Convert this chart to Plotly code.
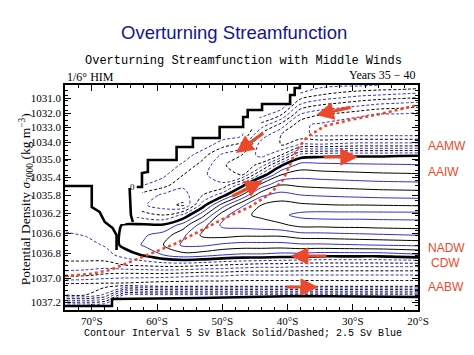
import numpy as np
import plotly.graph_objects as go

# ---------------- data ----------------
lats = [-74, -71, -68, -65, -62, -59, -56, -53, -50, -47, -44, -41, -38, -35, -32, -29, -26, -23, -20]
layers = list(range(0, 46, 2))          # model (isopycnal) layer index, axis is linear in layer

N = None
# overturning streamfunction (Sv), one list per latitude, top layer -> bottom layer
psi_by_lat = [
    [N, N, N, N, N, N, N, N, N, N, N, -0.3, -0.6, -1, -1.8, -2.8, -3.6, -4.2, -5.5, -9, -16, -15, -1],
    [N, N, N, N, N, N, N, N, N, N, N, -0.2, -0.5, -0.9, -1.6, -2.4, -3.3, -4.1, -5.6, -9.5, -16, -15, -1],
    [N, N, N, N, N, N, N, N, N, N, N, N, N, N, -1.2, -1.6, -2.3, -3.5, -6, -10.5, -16, -12, -1],
    [N, N, N, N, N, N, N, N, N, N, N, N, N, N, 0.2, 0.6, 0.8, -1.5, -5, -11, -16, -2, N],
    [N, N, N, N, N, N, N, N, N, -0.5, -2.5, -6, -7.2, -4, 0.3, 2.2, 2.8, 0.3, -4.5, -11, -16.5, -2, N],
    [N, N, N, N, N, N, N, N, -0.5, -2, -4, -8, -9, -5, 0.3, 3.5, 5, 2.5, -4, -11, -17, -2, N],
    [N, N, N, N, N, N, N, -1, -3, -5, -7, -8.5, -10.5, -2, 3.5, 7, 8, 4, -4, -11.5, -17, -2, N],
    [N, N, N, N, N, N, -1, -4, -6, -7, -7, -5, -1.2, 4, 9, 10.5, 8, 3.5, -4.5, -12, -17, -2, N],
    [N, N, N, N, N, -1, -4, -8, -9.5, -9, -7, -1.2, 6, 11.5, 13, 11, 7, 2.5, -5, -12, -17, -2, N],
    [N, N, N, N, N, -2, -6, -10, -12, -10, -1, 5, 12, 14.5, 13.5, 10.5, 6.5, 2, -5.5, -12.5, -17, -2, N],
    [N, N, N, -1.5, -6, -11, -14, -13.5, -9, -1.5, 6, 12, 15, 15.5, 14, 10.5, 6.5, 2, -6, -12.5, -17, -2, N],
    [N, N, -0.3, -5, -11, -15, -15, -10, -0.5, 5, 10, 13.5, 16, 17, 14.5, 10.5, 6.5, 1.5, -6, -12.5, -17, -2, N],
    [-0.5, -3, -8, -13, -17, -17, -12, -1.5, 3.5, 6.5, 9.5, 12.5, 15.5, 18.2, 15.8, 11.5, 7, 1.5, -6.5, -12.5, -17, -2, N],
    [-1.5, -5, -10, -15, -18, -18, -12, -0.8, 3.2, 6.2, 9.2, 12.2, 15.2, 18.6, 15.8, 11.6, 7, 1, -6.5, -12.5, -17, -2, N],
    [-2, -6, -11, -16, -19, -18, -11.5, -0.5, 3, 6, 9, 12, 15, 18.6, 16, 11.8, 7.2, 1, -6.5, -12.5, -17, -2, N],
    [-2, -7, -12, -17, -19.5, -18, -11, -0.5, 2.9, 5.8, 8.8, 11.8, 15, 18.6, 16, 12, 7.4, 1, -6.5, -12.5, -17, -2, N],
    [-2.5, -7.5, -13, -18, -19.5, -18, -11, -0.5, 2.8, 5.6, 8.6, 11.6, 14.9, 18.6, 16.2, 12.2, 7.6, 1, -6.5, -12.5, -17, -2, N],
    [-2.5, -8, -13.5, -18, -19.5, -18, -11, -0.3, 2.7, 5.5, 8.5, 11.5, 14.8, 18.6, 16.3, 12.4, 7.8, 1.5, -6.5, -12.5, -17, -2, N],
    [-3, -8.5, -14, -18.5, -19.5, -18, -11, -0.2, 2.6, 5.4, 8.4, 11.4, 14.7, 18.6, 16.4, 12.6, 8, 2, -6.5, -12.5, -17, -2, N],
]

# outcrop (lightest layer present) and densest-layer boundaries
outcrop_left_lat = [-74.1, -70.0, -70.0, -68.8, -68.0, -66.8, -66.2, -66.2]
outcrop_left_layer = [20.2, 20.2, 24.4, 25.4, 27.4, 28.6, 30.0, 33.0]
outcrop_lat = [-63.7, -64.0, -64.2, None, -63.1, -62.3, -62.3, -61.4, -61.4, -57.0, -57.0, -54.5, -54.5,
               -50.4, -50.4, -46.8, -46.8, -46.1, -46.1, -43.9, -43.9, -39.6, -39.6, -38.9, -38.9, -38.1, -38.1]
outcrop_layer = [27.4, 26.0, 20.6, None, 20.4, 20.4, 17.6, 17.4, 15.0, 15.0, 12.4, 12.4, 10.6,
                 10.6, 8.4, 8.4, 6.4, 6.4, 5.0, 5.0, 3.8, 3.8, 2.0, 2.0, 0.6, 0.6, 0.0]
bottom_lat = [-74.1, -66.9, -66.9, -53.4, -38.1, -20.0]
bottom_layer = [44.2, 44.2, 42.8, 42.6, 42.2, 42.4]

# red dotted line
red_lat = [-74.1, -70.3, -67.2, -64.2, -61.1, -57.3, -53.4, -49.6, -45.8, -42.7, -40.7, -39.6,
           -38.6, -37.0, -34.3, -30.4, -25.8, -20.0]
red_layer = [38.2, 37.8, 37.0, 35.4, 33.8, 31.8, 29.2, 26.6, 24.4, 21.8, 19.0, 16.0,
             13.0, 10.4, 8.2, 7.0, 5.8, 4.0]

# flow arrows: tail -> head
arrow_tail_lat = [-30.1, -43.5, -34.7, -48.7, -33.8, -40.4]
arrow_tail_layer = [4.4, 9.4, 14.4, 22.4, 34.2, 40.4]
arrow_head_lat = [-35.6, -47.9, -29.2, -43.8, -39.5, -35.3]
arrow_head_layer = [6.0, 13.6, 14.4, 19.2, 34.2, 40.4]

# water mass labels
water_masses = ["AAMW", "AAIW", "NADW", "CDW", "AABW"]
water_mass_layer = [12.2, 17.4, 32.6, 35.6, 40.4]

# axes
lat_ticks = [-70, -60, -50, -40, -30, -20]
lat_labels = ["70°S", "60°S", "50°S", "40°S", "30°S", "20°S"]
density_labels = ["1031.0", "1032.0", "1033.0", "1034.0", "1035.0", "1035.4", "1035.8",
                  "1036.2", "1036.6", "1036.8", "1037.0", "1037.2"]
density_layer = [2.6, 5.6, 8.5, 11.5, 14.8, 18.4, 22.0, 25.7, 29.6, 33.6, 38.6, 43.5]

# ---------------- figure ----------------
Z = np.array([[np.nan if v is None else v for v in col] for col in psi_by_lat], dtype=float).T

BLUE = "#2f2fc8"
RED = "#ea4a2a"
SERIF = "Liberation Serif"
MONO = "Liberation Mono"

def contour(start, end, color, dash, width):
    return go.Contour(
        x=lats, y=layers, z=Z, autocontour=False, connectgaps=False,
        contours=dict(start=start, end=end, size=5, coloring="none", showlabels=False),
        line=dict(color=color, width=width, dash=dash, smoothing=0.9),
        showscale=False, hoverinfo="skip")

fig = go.Figure()
fig.add_trace(contour(-17.5, -2.5, BLUE, "3px,2px", 1))
fig.add_trace(contour(-20, -5, "black", "3px,2px", 1))
fig.add_trace(contour(2.5, 17.5, BLUE, "solid", 1))
fig.add_trace(contour(5, 20, "black", "solid", 1))
fig.add_trace(contour(0, 0.1, "black", "solid", 2.6))

for xs, ys in [(outcrop_left_lat, outcrop_left_layer), (outcrop_lat, outcrop_layer), (bottom_lat, bottom_layer)]:
    fig.add_trace(go.Scatter(x=xs, y=ys, mode="lines", connectgaps=False,
                             line=dict(color="black", width=2.6), hoverinfo="skip"))

fig.add_trace(go.Scatter(x=red_lat, y=red_layer, mode="lines",
                         line=dict(color=RED, width=2.6, dash="dot"), hoverinfo="skip"))

for tx, ty, hx, hy in zip(arrow_tail_lat, arrow_tail_layer, arrow_head_lat, arrow_head_layer):
    fig.add_annotation(x=hx, y=hy, ax=tx, ay=ty, xref="x", yref="y", axref="x", ayref="y",
                       text="", showarrow=True, arrowhead=2, arrowsize=1.1, arrowwidth=3.2,
                       arrowcolor=RED)

fig.add_annotation(x=-63.75, y=20.3, text="0", showarrow=False, xref="x", yref="y",
                   font=dict(family=SERIF, size=9, color="black"))

for name, lay in zip(water_masses, water_mass_layer):
    fig.add_annotation(x=1, y=lay, xref="paper", yref="y", text=name, showarrow=False,
                       xanchor="left", xshift=8 if name != "CDW" else 11,
                       font=dict(family="Liberation Sans", size=12, color=RED))

# titles
fig.add_annotation(x=0.48, y=1, xref="paper", yref="paper", yshift=53, yanchor="middle",
                   text="Overturning Streamfunction", showarrow=False,
                   font=dict(family="Liberation Sans", size=18.5, color="#16168c"))
fig.add_annotation(x=0.505, y=1, xref="paper", yref="paper", yshift=24, yanchor="middle",
                   text="Overturning Streamfunction with Middle Winds", showarrow=False,
                   font=dict(family=MONO, size=12, color="black"))
fig.add_annotation(x=0, y=1, xref="paper", yref="paper", yshift=8, yanchor="middle", xanchor="left",
                   text="1/6° HIM", showarrow=False, font=dict(family=SERIF, size=12, color="black"))
fig.add_annotation(x=1, y=1, xref="paper", yref="paper", yshift=10, yanchor="middle", xanchor="right",
                   text="Years 35 − 40", showarrow=False, font=dict(family=SERIF, size=12, color="black"))
fig.add_annotation(x=0.503, y=0, xref="paper", yref="paper", yshift=-23, yanchor="middle",
                   text="Contour Interval 5 Sv Black Solid/Dashed; 2.5 Sv Blue", showarrow=False,
                   font=dict(family=MONO, size=10, color="black"))
fig.add_annotation(x=0, y=0.49, xref="paper", yref="paper", xshift=-50, textangle=-90,
                   text="Potential Density <i>σ</i><sub>2000</sub> (kg m<sup>−3</sup>)", showarrow=False,
                   font=dict(family=SERIF, size=13.5, color="black"))

# page body has an 8px margin, so the figure is sized 8px smaller to sit where the reference is
fig.update_layout(
    width=466, height=347, margin=dict(l=57, r=56, t=77, b=45),
    paper_bgcolor="white", plot_bgcolor="white", showlegend=False,
    xaxis=dict(range=[-74.1, -20], tickmode="array", tickvals=lat_ticks, ticktext=lat_labels,
               ticks="inside", ticklen=6, tickcolor="black", showline=True, linecolor="black",
               linewidth=1.5, mirror="allticks", showgrid=False, zeroline=False,
               minor=dict(tickmode="linear", tick0=0, dtick=2, ticks="inside", ticklen=3, tickcolor="black"),
               tickfont=dict(family=SERIF, size=11, color="black")),
    yaxis=dict(range=[45, 0], tickmode="array", tickvals=density_layer, ticktext=density_labels,
               ticks="inside", ticklen=6, tickcolor="black", showline=True, linecolor="black",
               linewidth=1.5, mirror="allticks", showgrid=False, zeroline=False,
               minor=dict(tickmode="linear", tick0=0, dtick=1, ticks="inside", ticklen=3, tickcolor="black"),
               tickfont=dict(family=SERIF, size=11, color="black")),
)

fig.write_html("out.html")
